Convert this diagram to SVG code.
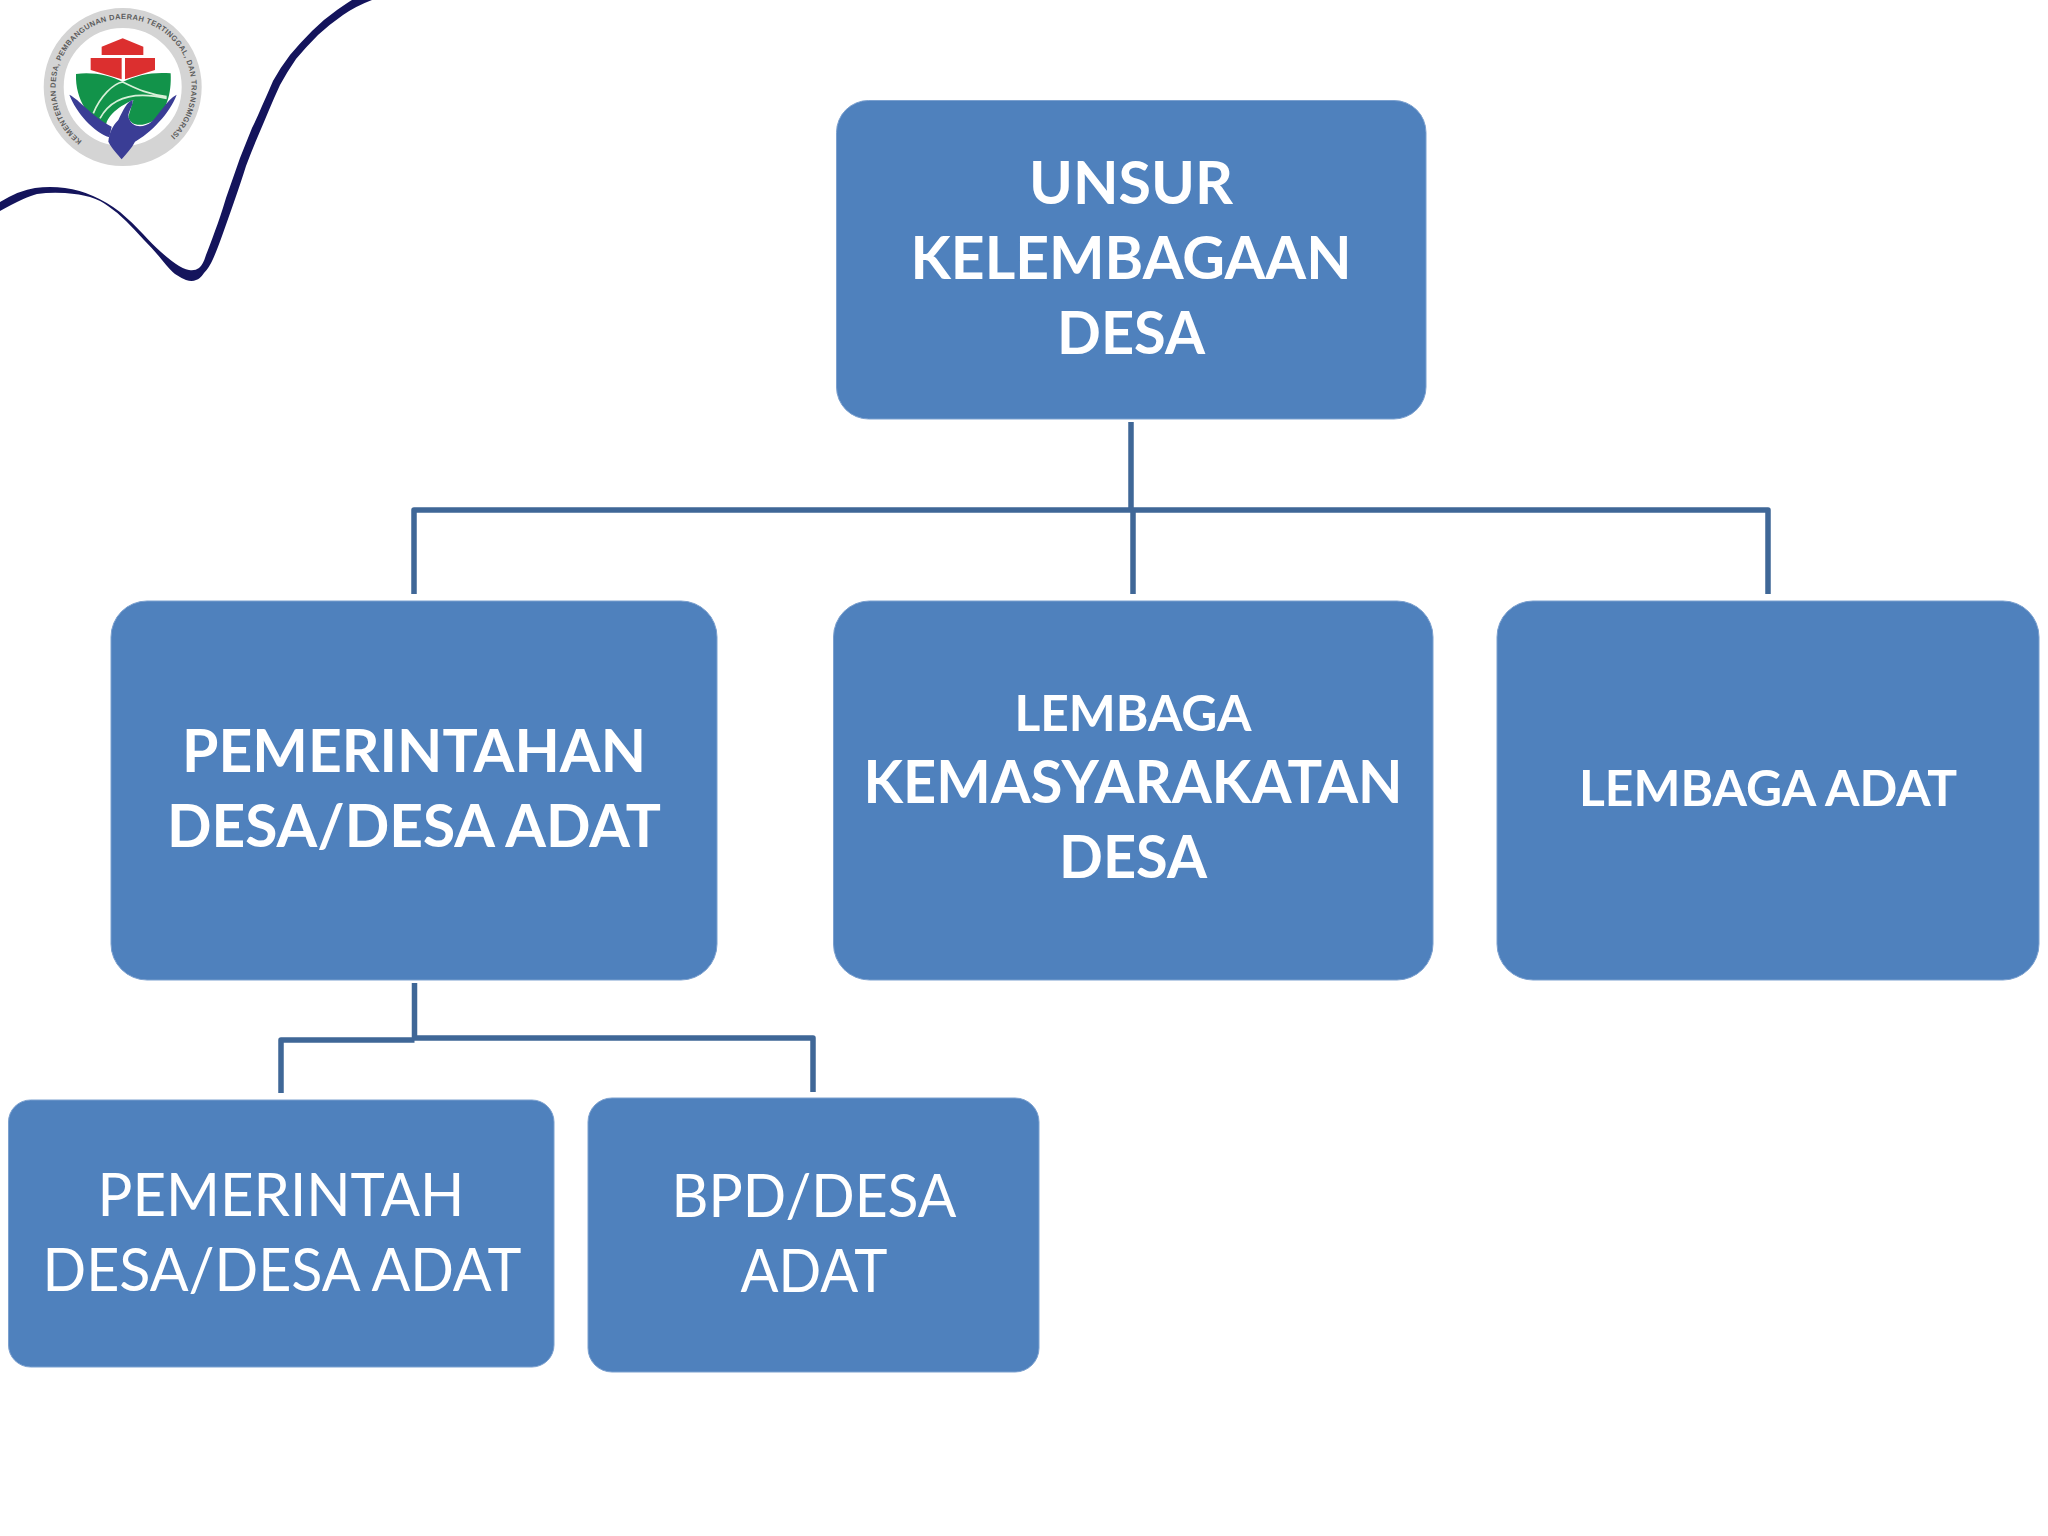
<svg xmlns="http://www.w3.org/2000/svg" width="2048" height="1536" viewBox="0 0 2048 1536">
<style>
.box{fill:#4f81bd;stroke:#7ba0cf;stroke-width:1}
.t{font-family:Lato,"Open Sans","Liberation Sans",sans-serif;fill:#fff;text-anchor:middle}
.b{font-weight:700}
.r{font-weight:400}
.c{fill:none;stroke:#3f6797;stroke-width:5.500;stroke-linejoin:round}
</style>
<defs><path id="ring" d="M82 141 A68 68 0 1 1 165 141"/></defs>
<rect width="2048" height="1536" fill="#fff"/>
<g id="logo">
<circle cx="122.700" cy="87" r="69" fill="none" stroke="#d4d4d4" stroke-width="20"/>
<text font-family="'Liberation Sans',sans-serif" font-size="7.500" font-weight="700" fill="#5c5c5c"><textPath href="#ring" textLength="330">KEMENTERIAN DESA, PEMBANGUNAN DAERAH TERTINGGAL, DAN TRANSMIGRASI</textPath></text>
<g transform="scale(.33333)">
<path d="M305 165V140L368 115L430 140V165Z" fill="#dc2f2f"/>
<path d="M272 174H365V238L272 210ZM375 174H465V210L375 238Z" fill="#dc2f2f"/>
<path d="M228 222C275 215 330 225 368 246C410 225 460 215 512 220C515 280 500 340 455 365C420 382 390 375 385 350L400 300C350 320 310 360 320 385C270 360 225 300 228 222Z" fill="#12934a"/>
<path d="M280 340C300 290 340 250 368 246C400 260 430 280 500 290M300 355C330 300 390 270 500 295" fill="none" stroke="#d8f0d8" stroke-width="5"/>
<path d="M208 284C240 300 270 345 335 380L328 412C280 395 230 340 208 284Z" fill="#3a3d95"/>
<path d="M530 284C500 300 480 340 455 365C430 385 395 385 385 350C385 330 400 320 398 300C380 305 370 330 355 360C340 375 328 395 325 425C335 445 355 465 365 478C380 460 395 445 405 425C450 400 510 340 530 284Z" fill="#3a3d95"/>
</g>
<path d="M0 202Q20 190 35 188Q50 186 65 188Q80 190 93 196Q107 202 120 212Q133 223 143 234Q153 245 161 252Q170 260 176 264Q183 269 189 270Q195 271 199 268Q203 265 206 255Q210 245 215 231Q220 218 226 198Q233 178 240 158Q248 138 252 128Q257 118 262 106Q267 95 273 81Q280 68 290 55Q300 43 312 31Q324 19 337 10Q350 1 352 0L372 0Q356 6 343 15Q330 24 318 35Q306 47 296 59Q287 72 280 85Q274 98 269 110Q264 122 258 136Q252 150 246 166Q241 182 234 202Q227 222 222 236Q217 250 213 259Q209 268 204 273Q200 279 196 280Q192 282 186 280Q181 278 175 274Q170 270 162 260Q154 250 144 240Q135 230 126 221Q117 212 108 206Q100 200 90 197Q80 194 65 193Q50 192 37 194Q25 197 0 211Z" fill="#14145c"/>
</g>
<g id="connectors">
<path class="c" d="M1131 422V510M414 594V510H1768V594M1133 510V594"/>
<path class="c" d="M414.500 983V1040M281 1093V1040H414.500M414.500 1038H813V1092"/>
</g>
<g id="n-unsur"><rect class="box" x="836.500" y="100.500" width="589.500" height="318.500" rx="32"/>
<text class="t b" font-size="60" lengthAdjust="spacingAndGlyphs" textLength="204" x="1131" y="204">UNSUR</text><text class="t b" font-size="60" lengthAdjust="spacingAndGlyphs" textLength="441" x="1131" y="279">KELEMBAGAAN</text><text class="t b" font-size="60" lengthAdjust="spacingAndGlyphs" textLength="148" x="1131" y="354">DESA</text></g>
<g id="n-pemerintahan"><rect class="box" x="111" y="601" width="606" height="379" rx="36"/>
<text class="t b" font-size="60" lengthAdjust="spacingAndGlyphs" textLength="464" x="414" y="772">PEMERINTAHAN</text><text class="t b" font-size="60" lengthAdjust="spacingAndGlyphs" textLength="494" x="414" y="847">DESA/DESA ADAT</text></g>
<g id="n-lembaga"><rect class="box" x="833.500" y="601" width="599.500" height="379" rx="36"/>
<text class="t b" font-size="50" lengthAdjust="spacingAndGlyphs" textLength="237" x="1133" y="731">LEMBAGA</text><text class="t b" font-size="60" lengthAdjust="spacingAndGlyphs" textLength="539" x="1133" y="803">KEMASYARAKATAN</text><text class="t b" font-size="60" lengthAdjust="spacingAndGlyphs" textLength="148" x="1133" y="878">DESA</text></g>
<g id="n-adat"><rect class="box" x="1497" y="601" width="542" height="379" rx="36"/>
<text class="t b" font-size="50" lengthAdjust="spacingAndGlyphs" textLength="378" x="1768" y="806">LEMBAGA ADAT</text></g>
<g id="n-pemerintah"><rect class="box" x="8.500" y="1100" width="545.500" height="267" rx="22"/>
<text class="t r" font-size="60" lengthAdjust="spacingAndGlyphs" textLength="367" x="281" y="1216">PEMERINTAH</text><text class="t r" font-size="60" lengthAdjust="spacingAndGlyphs" textLength="479" x="282" y="1291">DESA/DESA ADAT</text></g>
<g id="n-bpd"><rect class="box" x="588" y="1098" width="451" height="274" rx="24"/>
<text class="t r" font-size="60" lengthAdjust="spacingAndGlyphs" textLength="285" x="814" y="1217">BPD/DESA</text><text class="t r" font-size="60" lengthAdjust="spacingAndGlyphs" textLength="147" x="814" y="1292">ADAT</text></g>
</svg>
